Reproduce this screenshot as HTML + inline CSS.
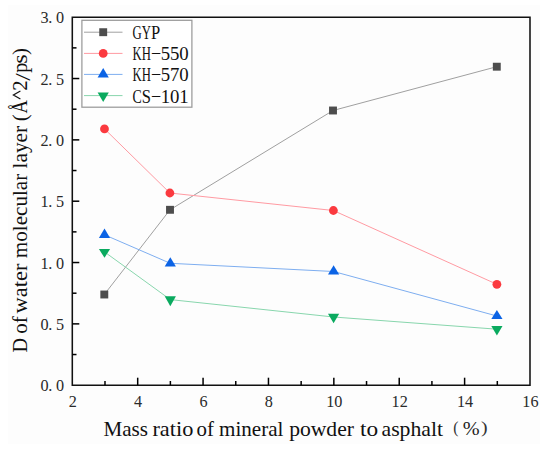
<!DOCTYPE html>
<html><head><meta charset="utf-8"><style>
html,body{margin:0;padding:0;background:#fff;width:550px;height:452px;overflow:hidden}
svg{display:block}
text{font-family:"Liberation Serif",serif;fill:#111;font-kerning:none}
.tl{fill:#2a2a2a}
</style></head><body>
<svg width="550" height="452" viewBox="0 0 550 452">
<rect x="8" y="5" width="532" height="439" fill="#fdfdfd"/>
<polyline fill="none" stroke="#a0a0a0" stroke-width="1" points="104.3,294.5 170.0,209.8 333.0,110.5 496.8,66.7"/>
<polyline fill="none" stroke="#ff9aa2" stroke-width="1" points="104.5,128.9 169.9,193.0 333.4,210.5 496.9,284.3"/>
<polyline fill="none" stroke="#7eaef0" stroke-width="1" points="104.5,234.8 170.3,263.3 333.6,271.5 496.9,316.0"/>
<polyline fill="none" stroke="#88d6ad" stroke-width="1" points="104.5,251.9 170.3,299.6 333.6,317.0 496.9,329.2"/>
<rect fill="#4D4D4D" x="100.35" y="290.55" width="7.90" height="7.90"/>
<rect fill="#4D4D4D" x="166.05" y="205.85" width="7.90" height="7.90"/>
<rect fill="#4D4D4D" x="329.05" y="106.55" width="7.90" height="7.90"/>
<rect fill="#4D4D4D" x="492.85" y="62.75" width="7.90" height="7.90"/>
<circle fill="#FB3A3F" cx="104.50" cy="128.90" r="4.40"/>
<circle fill="#FB3A3F" cx="169.90" cy="193.00" r="4.40"/>
<circle fill="#FB3A3F" cx="333.40" cy="210.50" r="4.40"/>
<circle fill="#FB3A3F" cx="496.90" cy="284.30" r="4.40"/>
<polygon fill="#0B63E5" points="104.50,228.50 98.90,237.90 110.10,237.90"/>
<polygon fill="#0B63E5" points="170.30,257.20 164.70,266.40 175.90,266.40"/>
<polygon fill="#0B63E5" points="333.60,265.30 328.00,274.60 339.20,274.60"/>
<polygon fill="#0B63E5" points="496.90,310.00 491.30,319.00 502.50,319.00"/>
<polygon fill="#0AAA5F" points="98.90,248.90 110.10,248.90 104.50,257.80"/>
<polygon fill="#0AAA5F" points="164.70,296.30 175.90,296.30 170.30,306.20"/>
<polygon fill="#0AAA5F" points="328.00,313.80 339.20,313.80 333.60,323.30"/>
<polygon fill="#0AAA5F" points="491.30,326.10 502.50,326.10 496.90,335.40"/>
<rect x="81.90" y="20.30" width="110.00" height="86.90" fill="#fff" stroke="#9a9a9a" stroke-width="1.25"/>
<line x1="84" x2="122.5" y1="32.20" y2="32.20" stroke="#a0a0a0" stroke-width="1"/>
<rect fill="#4D4D4D" x="99.25" y="28.25" width="7.90" height="7.90"/>
<text x="132.40" y="38.50" font-size="18.8" textLength="9.2" lengthAdjust="spacingAndGlyphs">G</text>
<text x="141.75" y="38.50" font-size="18.8" textLength="9.2" lengthAdjust="spacingAndGlyphs">Y</text>
<text x="151.10" y="38.50" font-size="18.8" textLength="9.2" lengthAdjust="spacingAndGlyphs">P</text>
<line x1="84" x2="122.5" y1="53.40" y2="53.40" stroke="#ff9aa2" stroke-width="1"/>
<circle fill="#FB3A3F" cx="103.20" cy="53.40" r="4.40"/>
<text x="132.40" y="60.10" font-size="18.8" textLength="9.2" lengthAdjust="spacingAndGlyphs">K</text>
<text x="141.75" y="60.10" font-size="18.8" textLength="9.2" lengthAdjust="spacingAndGlyphs">H</text>
<text x="152.10" y="58.30" font-size="18.8" textLength="8.2" lengthAdjust="spacingAndGlyphs">–</text>
<text x="160.65" y="60.10" font-size="18.8">5</text>
<text x="170.00" y="60.10" font-size="18.8">5</text>
<text x="179.35" y="60.10" font-size="18.8">0</text>
<line x1="84" x2="122.5" y1="74.40" y2="74.40" stroke="#7eaef0" stroke-width="1"/>
<polygon fill="#0B63E5" points="103.20,68.10 97.60,77.60 108.80,77.60"/>
<text x="132.40" y="81.10" font-size="18.8" textLength="9.2" lengthAdjust="spacingAndGlyphs">K</text>
<text x="141.75" y="81.10" font-size="18.8" textLength="9.2" lengthAdjust="spacingAndGlyphs">H</text>
<text x="152.10" y="79.30" font-size="18.8" textLength="8.2" lengthAdjust="spacingAndGlyphs">–</text>
<text x="160.65" y="81.10" font-size="18.8">5</text>
<text x="170.00" y="81.10" font-size="18.8">7</text>
<text x="179.35" y="81.10" font-size="18.8">0</text>
<line x1="84" x2="122.5" y1="95.60" y2="95.60" stroke="#88d6ad" stroke-width="1"/>
<polygon fill="#0AAA5F" points="97.60,92.40 108.80,92.40 103.20,101.90"/>
<text x="132.40" y="102.60" font-size="18.8" textLength="9.2" lengthAdjust="spacingAndGlyphs">C</text>
<text x="141.75" y="102.60" font-size="18.8" textLength="9.2" lengthAdjust="spacingAndGlyphs">S</text>
<text x="152.10" y="100.80" font-size="18.8" textLength="8.2" lengthAdjust="spacingAndGlyphs">–</text>
<text x="160.65" y="102.60" font-size="18.8">1</text>
<text x="170.00" y="102.60" font-size="18.8">0</text>
<text x="179.35" y="102.60" font-size="18.8">1</text>
<path d="M72.30,17.20 H530.00 V385.20 H72.30 Z" fill="none" stroke="#111" stroke-width="1.55"/>
<line x1="104.99" x2="104.99" y1="385.20" y2="381.00" stroke="#000" stroke-width="1.5"/>
<line x1="137.69" x2="137.69" y1="385.20" y2="377.70" stroke="#000" stroke-width="1.5"/>
<line x1="170.38" x2="170.38" y1="385.20" y2="381.00" stroke="#000" stroke-width="1.5"/>
<line x1="203.07" x2="203.07" y1="385.20" y2="377.70" stroke="#000" stroke-width="1.5"/>
<line x1="235.76" x2="235.76" y1="385.20" y2="381.00" stroke="#000" stroke-width="1.5"/>
<line x1="268.46" x2="268.46" y1="385.20" y2="377.70" stroke="#000" stroke-width="1.5"/>
<line x1="301.15" x2="301.15" y1="385.20" y2="381.00" stroke="#000" stroke-width="1.5"/>
<line x1="333.84" x2="333.84" y1="385.20" y2="377.70" stroke="#000" stroke-width="1.5"/>
<line x1="366.54" x2="366.54" y1="385.20" y2="381.00" stroke="#000" stroke-width="1.5"/>
<line x1="399.23" x2="399.23" y1="385.20" y2="377.70" stroke="#000" stroke-width="1.5"/>
<line x1="431.92" x2="431.92" y1="385.20" y2="381.00" stroke="#000" stroke-width="1.5"/>
<line x1="464.61" x2="464.61" y1="385.20" y2="377.70" stroke="#000" stroke-width="1.5"/>
<line x1="497.31" x2="497.31" y1="385.20" y2="381.00" stroke="#000" stroke-width="1.5"/>
<line x1="72.30" x2="76.50" y1="354.53" y2="354.53" stroke="#000" stroke-width="1.5"/>
<line x1="72.30" x2="79.30" y1="323.87" y2="323.87" stroke="#000" stroke-width="1.5"/>
<line x1="72.30" x2="76.50" y1="293.20" y2="293.20" stroke="#000" stroke-width="1.5"/>
<line x1="72.30" x2="79.30" y1="262.53" y2="262.53" stroke="#000" stroke-width="1.5"/>
<line x1="72.30" x2="76.50" y1="231.87" y2="231.87" stroke="#000" stroke-width="1.5"/>
<line x1="72.30" x2="79.30" y1="201.20" y2="201.20" stroke="#000" stroke-width="1.5"/>
<line x1="72.30" x2="76.50" y1="170.53" y2="170.53" stroke="#000" stroke-width="1.5"/>
<line x1="72.30" x2="79.30" y1="139.87" y2="139.87" stroke="#000" stroke-width="1.5"/>
<line x1="72.30" x2="76.50" y1="109.20" y2="109.20" stroke="#000" stroke-width="1.5"/>
<line x1="72.30" x2="79.30" y1="78.53" y2="78.53" stroke="#000" stroke-width="1.5"/>
<line x1="72.30" x2="76.50" y1="47.87" y2="47.87" stroke="#000" stroke-width="1.5"/>
<text x="72.70" y="406.8" font-size="16.2" text-anchor="middle" class="tl">2</text>
<text x="138.09" y="406.8" font-size="16.2" text-anchor="middle" class="tl">4</text>
<text x="203.47" y="406.8" font-size="16.2" text-anchor="middle" class="tl">6</text>
<text x="268.86" y="406.8" font-size="16.2" text-anchor="middle" class="tl">8</text>
<text x="334.24" y="406.8" font-size="16.2" text-anchor="middle" class="tl">10</text>
<text x="399.63" y="406.8" font-size="16.2" text-anchor="middle" class="tl">12</text>
<text x="465.01" y="406.8" font-size="16.2" text-anchor="middle" class="tl">14</text>
<text x="530.40" y="406.8" font-size="16.2" text-anchor="middle" class="tl">16</text>
<text x="40.6 48.2 55.9" y="391.20" font-size="16.2" class="tl">0.0</text>
<text x="40.6 48.2 55.9" y="329.87" font-size="16.2" class="tl">0.5</text>
<text x="40.6 48.2 55.9" y="268.53" font-size="16.2" class="tl">1.0</text>
<text x="40.6 48.2 55.9" y="207.20" font-size="16.2" class="tl">1.5</text>
<text x="40.6 48.2 55.9" y="145.87" font-size="16.2" class="tl">2.0</text>
<text x="40.6 48.2 55.9" y="84.53" font-size="16.2" class="tl">2.5</text>
<text x="40.6 48.2 55.9" y="23.20" font-size="16.2" class="tl">3.0</text>
<text x="103.49" y="435.60" font-size="20.20" textLength="44.47" lengthAdjust="spacingAndGlyphs">Mass</text>
<text x="152.45" y="435.60" font-size="20.20" textLength="40.90" lengthAdjust="spacingAndGlyphs">ratio</text>
<text x="196.50" y="435.60" font-size="20.20" textLength="17.40" lengthAdjust="spacingAndGlyphs">of</text>
<text x="219.06" y="435.60" font-size="20.20" textLength="64.36" lengthAdjust="spacingAndGlyphs">mineral</text>
<text x="289.15" y="435.60" font-size="20.20" textLength="64.84" lengthAdjust="spacingAndGlyphs">powder</text>
<text x="359.97" y="435.60" font-size="20.20" textLength="18.11" lengthAdjust="spacingAndGlyphs">to</text>
<text x="381.54" y="435.60" font-size="20.20" textLength="61.49" lengthAdjust="spacingAndGlyphs">asphalt</text>
<text x="453.32" y="432.60" font-size="16.50" textLength="5.19" lengthAdjust="spacingAndGlyphs" style="fill:#333">(</text>
<text x="462.81" y="435.20" font-size="19.50" textLength="16.89" lengthAdjust="spacingAndGlyphs" style="fill:#222">%</text>
<text x="481.06" y="432.60" font-size="16.50" textLength="6.61" lengthAdjust="spacingAndGlyphs" style="fill:#333">)</text>
<g transform="translate(26.7,352.6) rotate(-90)">
<text x="0.12" y="0.00" font-size="20.20" textLength="14.59" lengthAdjust="spacingAndGlyphs">D</text>
<text x="18.90" y="0.00" font-size="20.20" textLength="17.40" lengthAdjust="spacingAndGlyphs">of</text>
<text x="39.18" y="0.00" font-size="20.20" textLength="49.82" lengthAdjust="spacingAndGlyphs">water</text>
<text x="94.46" y="0.00" font-size="20.20" textLength="84.33" lengthAdjust="spacingAndGlyphs">molecular</text>
<text x="184.18" y="0.00" font-size="20.20" textLength="42.41" lengthAdjust="spacingAndGlyphs">layer</text>
<text x="231.48" y="0.00" font-size="20.20" textLength="7.00" lengthAdjust="spacingAndGlyphs">(</text>
<text x="239.22" y="0.00" font-size="22.30" textLength="13.32" lengthAdjust="spacingAndGlyphs">Å</text>
<text x="261.89" y="0.00" font-size="20.20" textLength="10.35" lengthAdjust="spacingAndGlyphs">2</text>
<text x="271.80" y="3.00" font-size="20.20" textLength="7.50" lengthAdjust="spacingAndGlyphs">/</text>
<text x="279.78" y="0.00" font-size="20.20" textLength="10.00" lengthAdjust="spacingAndGlyphs">p</text>
<text x="288.80" y="0.00" font-size="20.20" textLength="9.48" lengthAdjust="spacingAndGlyphs">s</text>
<text x="297.52" y="0.00" font-size="20.20" textLength="7.00" lengthAdjust="spacingAndGlyphs">)</text>
</g>
<path d="M20.4,91.1 L13.4,95 L20.4,98.9" fill="none" stroke="#111" stroke-width="1.2"/>
</svg>
</body></html>
